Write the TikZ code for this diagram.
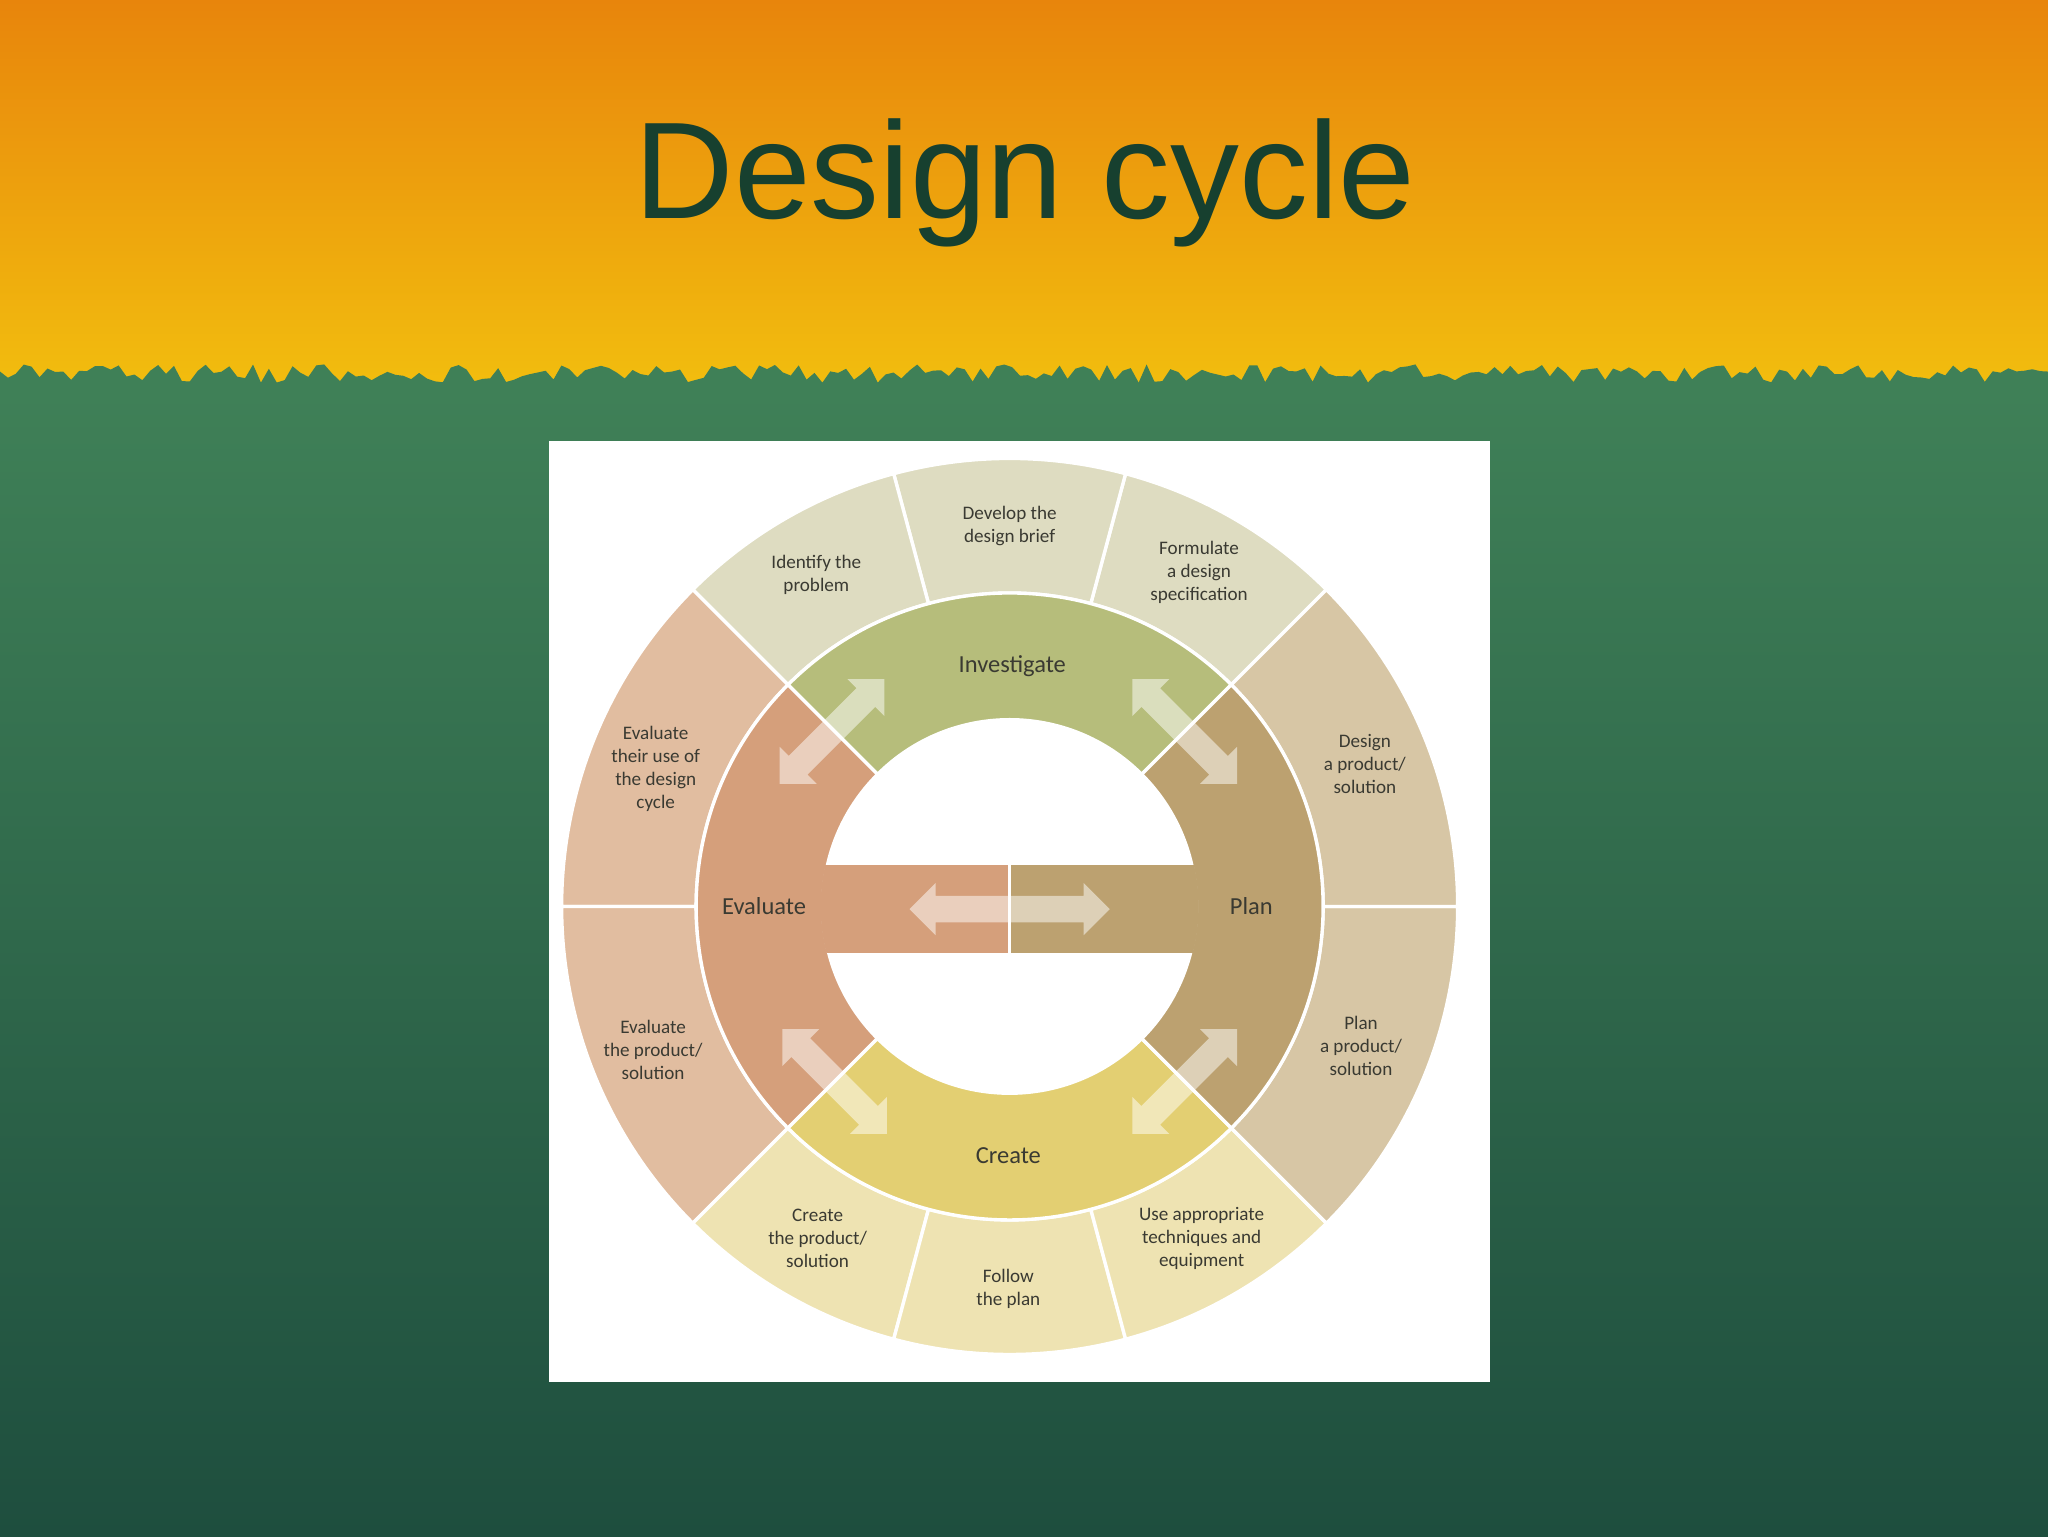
\documentclass[tikz,border=0pt]{standalone}
\usepackage{fontspec}
\setmainfont{Liberation Sans}
\newfontfamily\lab{Carlito}
\usetikzlibrary{shapes.arrows}
\definecolor{orgtop}{HTML}{E8850C}
\definecolor{orgbot}{HTML}{F2BE0E}
\definecolor{grtop}{HTML}{3F8057}
\definecolor{grbot}{HTML}{1E4E3E}
\definecolor{titlec}{HTML}{17402F}
\definecolor{oInv}{HTML}{DEDCC1}
\definecolor{oPlan}{HTML}{D7C6A5}
\definecolor{oCre}{HTML}{EEE3B2}
\definecolor{oEva}{HTML}{E1BDA0}
\definecolor{iInv}{HTML}{B6BD7B}
\definecolor{iPlan}{HTML}{BCA170}
\definecolor{iCre}{HTML}{E3CF72}
\definecolor{iEva}{HTML}{D59F7B}
\definecolor{txt}{HTML}{3A3A32}
\tikzset{
 seg/.style={draw=white,line width=2.2pt,line join=miter},
 small/.style={font=\lab\fontsize{12.5}{15}\selectfont,text=txt,align=center},
 big/.style={font=\lab\fontsize{16}{18}\selectfont,text=txt},
 darr/.style={double arrow,fill=white,fill opacity=0.5,draw=none,minimum height=3.4cm,minimum width=1.2cm,inner sep=0pt}
}
\newcommand{\shaft}{\rule{0pt}{0.5cm}}
\begin{document}
\begin{tikzpicture}[x=0.03cm,y=0.03cm]
\useasboundingbox (0,0) rectangle (1568,-1176);
\shade[top color=orgtop,bottom color=orgbot] (0,0) rectangle (1568,-300);
\shade[top color=grtop,bottom color=grbot] (0,-300) rectangle (1568,-1176);
\pgfmathsetseed{7}
\fill[grtop] (0,-300) -- plot[domain=0:1568,samples=260] (\x,{-286+7*rand}) -- (1568,-300) -- cycle;
\node[font=\fontsize{90}{100}\selectfont,text=titlec] (title) at (785,-140) {Design cycle};
\fill[white] (420,-338) rectangle (1141,-1058);
\begin{scope}[shift={(773,-694)}]
 \def\ro{10.29cm}\def\rm{7.2cm}\def\ri{4.29cm}
 \foreach \a/\b/\c in {45/75/oInv,75/105/oInv,105/135/oInv,135/180/oEva,180/225/oEva,225/255/oCre,255/285/oCre,285/315/oCre,315/360/oPlan,0/45/oPlan}
  \filldraw[seg,fill=\c] (\a:\rm) -- (\a:\ro) arc (\a:\b:\ro) -- (\b:\rm) arc (\b:\a:\rm) -- cycle;
 \foreach \a/\b/\c in {45/135/iInv,135/225/iEva,225/315/iCre,-45/45/iPlan}
  \filldraw[seg,fill=\c] (\a:\ri) -- (\a:\rm) arc (\a:\b:\rm) -- (\b:\ri) arc (\b:\a:\ri) -- cycle;
 \fill[white] (0,0) circle (\ri);
 \begin{scope}
  \clip (0,0) circle (\ri+0.05cm);
  \fill[iEva] (-150,32) rectangle (0,-36);
  \fill[iPlan] (0,32) rectangle (150,-36);
 \end{scope}
 \node[darr,minimum height=4.6cm] (barr) at (0,-2) {\shaft};
 \draw[white,line width=2pt] (0,32) -- (0,-36);
 \node[darr,rotate=45] (a1) at (-136,134) {\shaft};
 \node[darr,rotate=-45] (a2) at (134,134) {\shaft};
 \node[darr,rotate=-45] (a3) at (-134,-134) {\shaft};
 \node[darr,rotate=45] (a4) at (134,-134) {\shaft};
\end{scope}
\node[small] (l1) at (625,-440) {Identify the\\problem};
\node[small] (l2) at (773,-403) {Develop the\\design brief};
\node[small] (l3) at (918,-438) {Formulate\\a design\\specification};
\node[small] (l4) at (1045,-585) {Design\\a product/\\solution};
\node[small] (l5) at (1042,-801) {Plan\\a product/\\solution};
\node[small] (l6) at (920,-948) {Use appropriate\\techniques and\\equipment};
\node[small] (l7) at (772,-987) {Follow\\the plan};
\node[small] (l8) at (626,-948) {Create\\the product/\\solution};
\node[small] (l9) at (500,-804) {Evaluate\\the product/\\solution};
\node[small] (l10) at (502,-589) {Evaluate\\their use of\\the design\\cycle};
\node[big] (i1) at (775,-510) {Investigate};
\node[big] (i2) at (958,-694) {Plan};
\node[big] (i3) at (772,-885) {Create};
\node[big] (i4) at (585,-694) {Evaluate};
\end{tikzpicture}
\end{document}
